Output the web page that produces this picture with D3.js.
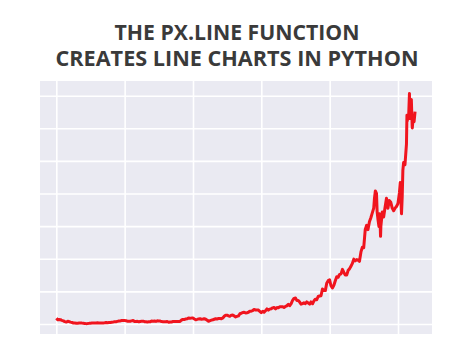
<!DOCTYPE html>
<html><head><meta charset="utf-8">
<script src="https://cdn.jsdelivr.net/npm/d3@7"></script>
<style>body{margin:0;background:#fff}svg{display:block}</style>
</head><body><svg id="c" width="474" height="357"></svg>
<script>
const titleLines = ["THE PX.LINE FUNCTION", "CREATES LINE CHARTS IN PYTHON"];
const xTickYears = ["2000","2004","2008","2012","2016","2020"];
const yTickValues = [0,500,1000,1500,2000,2500,3000,3500];
const dates = [
"2000-01-03","2000-01-31","2000-02-29","2000-03-31","2000-04-28","2000-05-31","2000-06-30","2000-07-31","2000-08-31","2000-09-29","2000-10-31","2000-11-30","2000-12-29",
"2001-01-31","2001-02-28","2001-03-30","2001-04-30","2001-05-31","2001-06-29","2001-07-31","2001-08-31","2001-09-28","2001-10-31","2001-11-30","2001-12-31",
"2002-01-31","2002-02-28","2002-03-28","2002-04-30","2002-05-31","2002-06-28","2002-07-31","2002-08-30","2002-09-30","2002-10-31","2002-11-29","2002-12-31",
"2003-01-31","2003-02-28","2003-03-31","2003-04-30","2003-05-30","2003-06-30","2003-07-31","2003-08-29","2003-09-30","2003-10-31","2003-11-28","2003-12-31",
"2004-01-30","2004-02-27","2004-03-31","2004-04-30","2004-05-28","2004-06-30","2004-07-30","2004-08-31","2004-09-30","2004-10-29","2004-11-30","2004-12-31",
"2005-01-31","2005-02-28","2005-03-31","2005-04-29","2005-05-31","2005-06-30","2005-07-29","2005-08-31","2005-09-30","2005-10-31","2005-11-30","2005-12-30",
"2006-01-31","2006-02-28","2006-03-31","2006-04-28","2006-05-31","2006-06-30","2006-07-31","2006-08-31","2006-09-29","2006-10-31","2006-11-30","2006-12-29",
"2007-01-31","2007-02-28","2007-03-30","2007-04-30","2007-05-31","2007-06-29","2007-07-31","2007-08-31","2007-09-28","2007-10-31","2007-11-30","2007-12-31",
"2008-01-31","2008-02-29","2008-03-31","2008-04-30","2008-05-30","2008-06-30","2008-07-31","2008-08-29","2008-09-30","2008-10-31","2008-11-28","2008-12-31",
"2009-01-30","2009-02-27","2009-03-31","2009-04-30","2009-05-29","2009-06-30","2009-07-31","2009-08-31","2009-09-30","2009-10-30","2009-11-30","2009-12-31",
"2010-01-29","2010-02-26","2010-03-31","2010-04-30","2010-05-28","2010-06-30","2010-07-30","2010-08-31","2010-09-30","2010-10-29","2010-11-30","2010-12-31",
"2011-01-31","2011-02-28","2011-03-31","2011-04-29","2011-05-31","2011-06-30","2011-07-29","2011-08-31","2011-09-30","2011-10-31","2011-11-30","2011-12-30",
"2012-01-31","2012-02-29","2012-03-30","2012-04-30","2012-05-31","2012-06-29","2012-07-31","2012-08-31","2012-09-28","2012-10-31","2012-11-30","2012-12-31",
"2013-01-31","2013-02-28","2013-03-28","2013-04-30","2013-05-31","2013-06-28","2013-07-31","2013-08-30","2013-09-30","2013-10-31","2013-11-29","2013-12-31",
"2014-01-31","2014-02-28","2014-03-31","2014-04-30","2014-05-30","2014-06-30","2014-07-31","2014-08-29","2014-09-30","2014-10-31","2014-11-28","2014-12-31",
"2015-01-30","2015-02-27","2015-03-31","2015-04-30","2015-05-29","2015-06-30","2015-07-31","2015-08-31","2015-09-30","2015-10-30","2015-11-30","2015-12-31",
"2016-01-29","2016-02-29","2016-03-31","2016-04-29","2016-05-31","2016-06-30","2016-07-29","2016-08-31","2016-09-30","2016-10-31","2016-11-30","2016-12-30",
"2017-01-31","2017-02-28","2017-03-31","2017-04-28","2017-05-31","2017-06-30","2017-07-31","2017-08-31","2017-09-29","2017-10-31","2017-11-30","2017-12-29",
"2018-01-31","2018-02-28","2018-03-29","2018-04-30","2018-05-31","2018-06-29","2018-07-31","2018-08-15","2018-09-04","2018-09-28","2018-10-12","2018-10-31","2018-11-20","2018-11-30","2018-12-11","2018-12-24","2018-12-31",
"2019-01-31","2019-02-28","2019-03-29","2019-04-30","2019-05-31","2019-06-28","2019-07-31","2019-08-30","2019-09-30","2019-10-31","2019-11-29","2019-12-31",
"2020-01-31","2020-02-19","2020-03-16","2020-03-31","2020-04-14","2020-04-30","2020-05-29","2020-06-30","2020-07-10","2020-07-13","2020-07-31","2020-08-14","2020-09-02","2020-09-08","2020-09-30","2020-10-12","2020-10-30","2020-11-02","2020-11-16","2020-11-30","2020-12-10","2020-12-31"
];
const closes = [
89,64.6,68.9,67,55,48,36,30,41,38,29,24,15.6,
17,10,10,15.8,16.7,14,12.5,9,6,7,10,10.8,
14,14.3,14.3,16.7,18,16.3,14.5,15,16,19.4,23.4,18.9,
21.9,22,26,29,36,36,41,45.6,48,54.4,54,52.6,
50.4,43,43,43.6,48.5,54.4,38.9,38.1,40.9,34.1,39.7,44.3,
43.2,35.2,34.3,32.4,35.5,33.1,45.1,42.7,45.3,39.9,48.5,47.2,
45,37.4,36.5,35.2,34.6,38.7,27,30.8,32.1,38.1,40.3,39.5,
37.7,39.1,39.8,61.3,69.1,68.4,78.5,79.9,93.2,89.2,90.6,92.6,
77.7,64.5,71.3,78.6,81.6,73.3,76.3,80.8,72.8,57.2,42.7,51.3,
58.8,64.8,73.4,80.5,77.9,83.7,85.8,81.2,93.4,118.8,135.9,134.5,
125.4,118.4,135.8,137.1,125.5,109.3,117.9,124.8,157.1,165.2,175.4,180,
169.6,173.3,180.1,196.7,196.7,204.5,222.5,215.2,216.2,213.5,192.3,173.1,
194.4,179.7,202.5,231.9,212.9,228.4,233.3,248.3,254.3,232.9,252.1,250.9,
265.5,264.3,266.5,253.8,269.2,277.7,301.2,281,312.6,364,393.6,398.8,
358.7,362.1,336.4,304.1,312.6,324.8,313,339,322.4,305.5,338.6,310.4,
354.5,380.2,372.1,421.8,429.2,434.1,536.2,512.9,511.9,625.9,664.8,675.9,
587,552.5,593.6,659.6,722.8,715.6,758.8,769.2,837.3,789.8,750.6,749.9,
823.5,845,886.5,925,994.6,968,987.8,980.6,961.4,1105.3,1176.8,1169.5,
1450.9,1512.5,1447.3,1566.1,1629.6,1699.8,1777.4,1919.7,2039.5,2003,1719.4,1598,1495.5,1690.2,1643.2,1344,1502,
1718.7,1639.8,1780.8,1926.5,1775.1,1893.6,1866.8,1776.3,1735.9,1776.7,1800.8,1847.8,
2008.7,2170.2,1689.2,1949.7,2354,2474,2442.4,2758.8,3200,3104,3164.7,3148,3531.5,3149,3148.7,3443,3036.2,3004.5,3131,3168,3101.5,3256.9
];

const W = 474, H = 357;
const plot = {left: 40, right: 432, top: 81, bottom: 334};
const parse = d3.timeParse("%Y-%m-%d");
const data = dates.map((d, i) => ({date: parse(d), v: closes[i]}));

const svg = d3.select("#c");

const x = d3.scaleTime()
  .domain([parse("1999-01-17"), parse("2021-12-28")])
  .range([plot.left, plot.right]);
const y = d3.scaleLinear()
  .domain([-153, 3725])
  .range([plot.bottom, plot.top]);

svg.append("rect")
  .attr("x", plot.left).attr("y", plot.top)
  .attr("width", plot.right - plot.left).attr("height", plot.bottom - plot.top)
  .attr("fill", "#eaeaf2");

const yGrid = svg.append("g")
  .attr("transform", `translate(${plot.left},0)`)
  .call(d3.axisLeft(y).tickValues(yTickValues).tickSize(-(plot.right - plot.left)).tickFormat(""));
const xGrid = svg.append("g")
  .attr("transform", `translate(0,${plot.bottom})`)
  .call(d3.axisBottom(x).tickValues(xTickYears.map(s => parse(s + "-01-01"))).tickSize(-(plot.bottom - plot.top)).tickFormat(""));
[yGrid, xGrid].forEach(g => {
  g.select(".domain").remove();
  g.selectAll(".tick line").attr("stroke", "#ffffff").attr("stroke-width", 1.6);
});

svg.append("path")
  .datum(data)
  .attr("fill", "none")
  .attr("stroke", "#f0141e")
  .attr("stroke-width", 3)
  .attr("stroke-linejoin", "round")
  .attr("d", d3.line().x(d => x(d.date)).y(d => y(d.v)));

const titleW = [245, 363];
const titleY = [39.5, 65.7];
titleLines.forEach((t, i) => {
  svg.append("text")
    .attr("x", W / 2).attr("y", titleY[i])
    .attr("text-anchor", "middle")
    .attr("font-family", "'Open Sans', sans-serif")
    .attr("font-weight", 700)
    .attr("font-size", 20.5)
    .attr("fill", "#3a3a3a")
    .attr("textLength", titleW[i])
    .attr("lengthAdjust", "spacingAndGlyphs")
    .text(t);
});
</script></body></html>
